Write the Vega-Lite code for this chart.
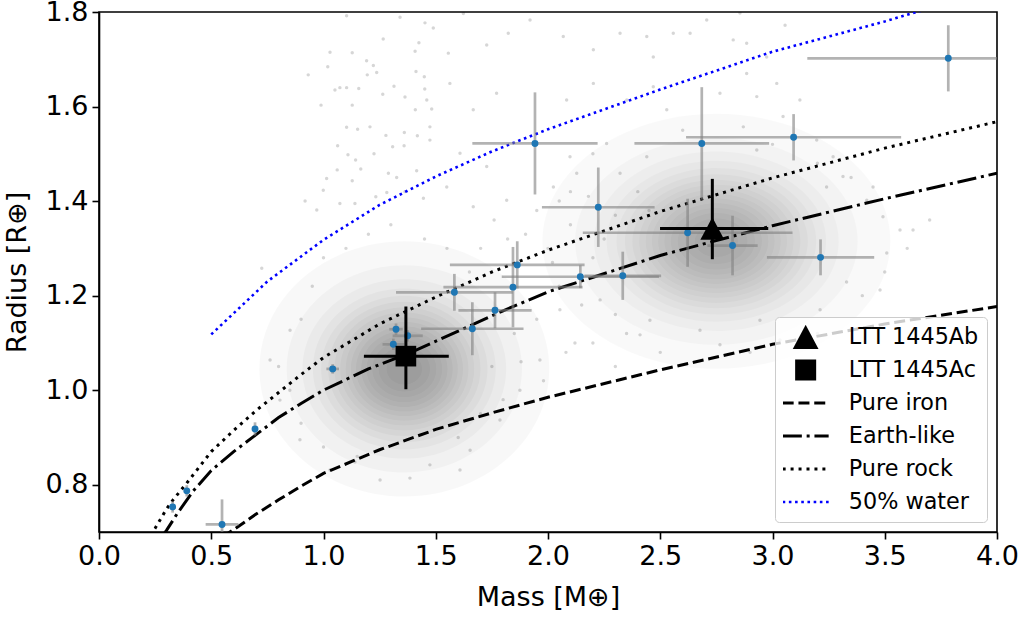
{
  "$schema": "https://vega.github.io/schema/vega-lite/v6.json",
  "width": 898,
  "height": 520,
  "autosize": "none",
  "padding": {"left": 99, "top": 12, "right": 23, "bottom": 88},
  "background": "white",
  "datasets": {
    "cloud": [
      {"planet": "c", "mass": 1.36, "radius": 1.045, "level": 0.359},
      {"planet": "c", "mass": 1.36, "radius": 1.045, "level": 0.517},
      {"planet": "c", "mass": 1.36, "radius": 1.045, "level": 0.644},
      {"planet": "c", "mass": 1.36, "radius": 1.045, "level": 0.759},
      {"planet": "c", "mass": 1.36, "radius": 1.045, "level": 0.866},
      {"planet": "c", "mass": 1.36, "radius": 1.045, "level": 0.97},
      {"planet": "c", "mass": 1.36, "radius": 1.045, "level": 1.073},
      {"planet": "c", "mass": 1.36, "radius": 1.045, "level": 1.177},
      {"planet": "c", "mass": 1.36, "radius": 1.045, "level": 1.286},
      {"planet": "c", "mass": 1.36, "radius": 1.045, "level": 1.401},
      {"planet": "c", "mass": 1.36, "radius": 1.045, "level": 1.525},
      {"planet": "c", "mass": 1.36, "radius": 1.045, "level": 1.665},
      {"planet": "c", "mass": 1.36, "radius": 1.045, "level": 1.83},
      {"planet": "c", "mass": 1.36, "radius": 1.045, "level": 2.039},
      {"planet": "c", "mass": 1.36, "radius": 1.045, "level": 2.355},
      {"planet": "c", "mass": 1.36, "radius": 1.045, "level": 2.9},
      {"planet": "b", "mass": 2.75, "radius": 1.315, "level": 0.359},
      {"planet": "b", "mass": 2.75, "radius": 1.315, "level": 0.517},
      {"planet": "b", "mass": 2.75, "radius": 1.315, "level": 0.644},
      {"planet": "b", "mass": 2.75, "radius": 1.315, "level": 0.759},
      {"planet": "b", "mass": 2.75, "radius": 1.315, "level": 0.866},
      {"planet": "b", "mass": 2.75, "radius": 1.315, "level": 0.97},
      {"planet": "b", "mass": 2.75, "radius": 1.315, "level": 1.073},
      {"planet": "b", "mass": 2.75, "radius": 1.315, "level": 1.177},
      {"planet": "b", "mass": 2.75, "radius": 1.315, "level": 1.286},
      {"planet": "b", "mass": 2.75, "radius": 1.315, "level": 1.401},
      {"planet": "b", "mass": 2.75, "radius": 1.315, "level": 1.525},
      {"planet": "b", "mass": 2.75, "radius": 1.315, "level": 1.665},
      {"planet": "b", "mass": 2.75, "radius": 1.315, "level": 1.83},
      {"planet": "b", "mass": 2.75, "radius": 1.315, "level": 2.039},
      {"planet": "b", "mass": 2.75, "radius": 1.315, "level": 2.355},
      {"planet": "b", "mass": 2.75, "radius": 1.315, "level": 2.9}
    ],
    "halo": [
      {"mass": 1.103, "radius": 1.792}, {"mass": 1.341, "radius": 1.789}, {"mass": 1.452, "radius": 1.777},
      {"mass": 1.029, "radius": 1.715}, {"mass": 1.128, "radius": 1.714}, {"mass": 1.266, "radius": 1.743},
      {"mass": 1.425, "radius": 1.735}, {"mass": 1.408, "radius": 1.717}, {"mass": 0.932, "radius": 1.667},
      {"mass": 1.019, "radius": 1.684}, {"mass": 1.192, "radius": 1.697}, {"mass": 1.222, "radius": 1.687},
      {"mass": 1.195, "radius": 1.667}, {"mass": 1.237, "radius": 1.672}, {"mass": 1.412, "radius": 1.674},
      {"mass": 1.449, "radius": 1.663}, {"mass": 1.051, "radius": 1.635}, {"mass": 1.073, "radius": 1.64},
      {"mass": 1.103, "radius": 1.64}, {"mass": 1.157, "radius": 1.638}, {"mass": 1.314, "radius": 1.643},
      {"mass": 1.451, "radius": 1.637}, {"mass": 1.264, "radius": 1.626}, {"mass": 1.363, "radius": 1.62},
      {"mass": 0.989, "radius": 1.603}, {"mass": 1.128, "radius": 1.603}, {"mass": 1.409, "radius": 1.593},
      {"mass": 1.482, "radius": 1.595}, {"mass": 1.103, "radius": 1.556}, {"mass": 1.152, "radius": 1.552},
      {"mass": 1.207, "radius": 1.557}, {"mass": 1.278, "radius": 1.539}, {"mass": 1.36, "radius": 1.545},
      {"mass": 1.418, "radius": 1.538}, {"mass": 1.474, "radius": 1.557}, {"mass": 1.063, "radius": 1.517},
      {"mass": 1.109, "radius": 1.498}, {"mass": 1.143, "radius": 1.487}, {"mass": 1.225, "radius": 1.5},
      {"mass": 1.308, "radius": 1.515}, {"mass": 1.359, "radius": 1.517}, {"mass": 1.061, "radius": 1.466},
      {"mass": 1.128, "radius": 1.443}, {"mass": 1.166, "radius": 1.468}, {"mass": 1.289, "radius": 1.459},
      {"mass": 1.326, "radius": 1.45}, {"mass": 1.415, "radius": 1.464}, {"mass": 1.014, "radius": 1.448},
      {"mass": 0.999, "radius": 1.423}, {"mass": 0.918, "radius": 1.4}, {"mass": 0.97, "radius": 1.381},
      {"mass": 1.073, "radius": 1.395}, {"mass": 1.14, "radius": 1.395}, {"mass": 1.233, "radius": 1.409},
      {"mass": 1.282, "radius": 1.418}, {"mass": 1.363, "radius": 1.42}, {"mass": 1.445, "radius": 1.406},
      {"mass": 0.725, "radius": 1.258},
      {"mass": 1.029, "radius": 0.831}, {"mass": 1.252, "radius": 0.81}, {"mass": 1.474, "radius": 0.842},
      {"mass": 1.653, "radius": 0.873}, {"mass": 0.895, "radius": 0.895}, {"mass": 1.786, "radius": 0.937},
      {"mass": 1.875, "radius": 1.0}, {"mass": 1.964, "radius": 1.064}, {"mass": 0.806, "radius": 0.979},
      {"mass": 0.762, "radius": 1.064}, {"mass": 0.851, "radius": 1.127}, {"mass": 1.608, "radius": 0.831},
      {"mass": 1.385, "radius": 0.814}, {"mass": 1.14, "radius": 0.848},
      {"mass": 1.489, "radius": 1.766}, {"mass": 1.623, "radius": 1.797}, {"mass": 1.556, "radius": 1.713},
      {"mass": 1.727, "radius": 1.73}, {"mass": 1.823, "radius": 1.755}, {"mass": 1.92, "radius": 1.783},
      {"mass": 2.068, "radius": 1.748}, {"mass": 2.202, "radius": 1.72}, {"mass": 2.321, "radius": 1.755},
      {"mass": 2.44, "radius": 1.748}, {"mass": 2.469, "radius": 1.705}, {"mass": 2.558, "radius": 1.755},
      {"mass": 2.633, "radius": 1.755}, {"mass": 2.707, "radius": 1.783}, {"mass": 2.825, "radius": 1.741},
      {"mass": 1.46, "radius": 1.614}, {"mass": 1.563, "radius": 1.649}, {"mass": 1.667, "radius": 1.593},
      {"mass": 1.771, "radius": 1.628}, {"mass": 2.083, "radius": 1.614}, {"mass": 2.202, "radius": 1.649},
      {"mass": 2.351, "radius": 1.614}, {"mass": 2.469, "radius": 1.642}, {"mass": 2.529, "radius": 1.593},
      {"mass": 2.766, "radius": 1.628}, {"mass": 2.885, "radius": 1.67}, {"mass": 1.474, "radius": 1.529},
      {"mass": 1.608, "radius": 1.501}, {"mass": 1.727, "radius": 1.473}, {"mass": 2.098, "radius": 1.494},
      {"mass": 2.261, "radius": 1.522}, {"mass": 2.321, "radius": 1.459}, {"mass": 2.44, "radius": 1.494},
      {"mass": 2.87, "radius": 1.557}, {"mass": 2.93, "radius": 1.508}, {"mass": 1.549, "radius": 1.43},
      {"mass": 1.667, "radius": 1.388}, {"mass": 1.816, "radius": 1.402}, {"mass": 2.024, "radius": 1.43},
      {"mass": 2.128, "radius": 1.459},
      {"mass": 2.855, "radius": 1.798}, {"mass": 3.056, "radius": 1.772}, {"mass": 2.885, "radius": 1.734},
      {"mass": 2.974, "radius": 1.705}, {"mass": 3.019, "radius": 1.649}, {"mass": 2.93, "radius": 1.621},
      {"mass": 3.122, "radius": 1.614}, {"mass": 3.047, "radius": 1.579}, {"mass": 3.197, "radius": 1.529},
      {"mass": 3.27, "radius": 1.494}, {"mass": 3.314, "radius": 1.452}, {"mass": 3.42, "radius": 1.402},
      {"mass": 3.492, "radius": 1.367}, {"mass": 3.568, "radius": 1.339}, {"mass": 3.626, "radius": 1.339},
      {"mass": 3.509, "radius": 1.29}, {"mass": 3.33, "radius": 1.229}, {"mass": 3.448, "radius": 1.43},
      {"mass": 3.241, "radius": 1.43},
      {"mass": 2.232, "radius": 1.191}, {"mass": 2.454, "radius": 1.148}, {"mass": 2.677, "radius": 1.127},
      {"mass": 2.944, "radius": 1.148}, {"mass": 3.212, "radius": 1.17}, {"mass": 3.479, "radius": 1.212},
      {"mass": 2.41, "radius": 1.117}, {"mass": 2.053, "radius": 1.17}, {"mass": 3.033, "radius": 1.106},
      {"mass": 2.766, "radius": 1.096},
      {"mass": 1.85, "radius": 1.12}, {"mass": 1.95, "radius": 1.15}, {"mass": 2.0, "radius": 1.3},
      {"mass": 2.05, "radius": 1.22}, {"mass": 2.1, "radius": 1.35}, {"mass": 2.15, "radius": 1.18},
      {"mass": 2.2, "radius": 1.28}, {"mass": 2.25, "radius": 1.32}, {"mass": 2.3, "radius": 1.37},
      {"mass": 2.3, "radius": 1.16}, {"mass": 2.18, "radius": 1.41}, {"mass": 1.9, "radius": 1.33},
      {"mass": 1.95, "radius": 1.38}, {"mass": 2.05, "radius": 1.4}, {"mass": 1.82, "radius": 1.32},
      {"mass": 2.35, "radius": 1.12}, {"mass": 2.4, "radius": 1.42}, {"mass": 2.12, "radius": 1.1},
      {"mass": 1.88, "radius": 1.06}, {"mass": 1.98, "radius": 1.02}, {"mass": 2.08, "radius": 1.08},
      {"mass": 2.45, "radius": 1.38}, {"mass": 2.02, "radius": 1.27}, {"mass": 1.76, "radius": 1.36},
      {"mass": 1.7, "radius": 1.3},
      {"mass": 0.9, "radius": 1.15}, {"mass": 0.95, "radius": 1.22}, {"mass": 1.0, "radius": 1.28},
      {"mass": 1.1, "radius": 1.3}, {"mass": 1.2, "radius": 1.33}, {"mass": 1.3, "radius": 1.35},
      {"mass": 1.45, "radius": 1.32}, {"mass": 1.55, "radius": 1.3}, {"mass": 1.65, "radius": 1.25},
      {"mass": 1.75, "radius": 1.05}, {"mass": 1.8, "radius": 0.98}, {"mass": 0.85, "radius": 1.0},
      {"mass": 0.9, "radius": 0.93}, {"mass": 1.0, "radius": 0.88}, {"mass": 1.15, "radius": 0.86},
      {"mass": 1.6, "radius": 0.9}, {"mass": 1.7, "radius": 0.95}, {"mass": 0.8, "radius": 1.05},
      {"mass": 2.3, "radius": 1.05}, {"mass": 2.5, "radius": 1.08}, {"mass": 2.9, "radius": 1.08},
      {"mass": 3.2, "radius": 1.12}, {"mass": 3.4, "radius": 1.2}, {"mass": 3.5, "radius": 1.25},
      {"mass": 3.35, "radius": 1.45}, {"mass": 3.2, "radius": 1.48}, {"mass": 2.2, "radius": 1.5},
      {"mass": 2.1, "radius": 1.42}, {"mass": 2.6, "radius": 1.55}, {"mass": 3.0, "radius": 1.52},
      {"mass": 3.6, "radius": 1.3}, {"mass": 3.7, "radius": 1.36}, {"mass": 2.2, "radius": 1.1}
    ],
    "models": [
      {"series": "Pure iron", "mass": 0.55, "radius": 0.69}, {"series": "Pure iron", "mass": 0.6, "radius": 0.705},
      {"series": "Pure iron", "mass": 0.7, "radius": 0.738}, {"series": "Pure iron", "mass": 0.8, "radius": 0.768},
      {"series": "Pure iron", "mass": 0.9, "radius": 0.797}, {"series": "Pure iron", "mass": 1.0, "radius": 0.824},
      {"series": "Pure iron", "mass": 1.25, "radius": 0.874}, {"series": "Pure iron", "mass": 1.5, "radius": 0.917},
      {"series": "Pure iron", "mass": 1.75, "radius": 0.952}, {"series": "Pure iron", "mass": 2.0, "radius": 0.985},
      {"series": "Pure iron", "mass": 2.5, "radius": 1.043}, {"series": "Pure iron", "mass": 3.0, "radius": 1.097},
      {"series": "Pure iron", "mass": 3.5, "radius": 1.14}, {"series": "Pure iron", "mass": 4.0, "radius": 1.177},
      {"series": "Earth-like", "mass": 0.28, "radius": 0.69}, {"series": "Earth-like", "mass": 0.3, "radius": 0.703},
      {"series": "Earth-like", "mass": 0.35, "radius": 0.74}, {"series": "Earth-like", "mass": 0.42, "radius": 0.787},
      {"series": "Earth-like", "mass": 0.5, "radius": 0.83}, {"series": "Earth-like", "mass": 0.6, "radius": 0.87},
      {"series": "Earth-like", "mass": 0.7, "radius": 0.906}, {"series": "Earth-like", "mass": 0.8, "radius": 0.942},
      {"series": "Earth-like", "mass": 0.9, "radius": 0.972}, {"series": "Earth-like", "mass": 1.0, "radius": 1.0},
      {"series": "Earth-like", "mass": 1.2, "radius": 1.045}, {"series": "Earth-like", "mass": 1.4, "radius": 1.082},
      {"series": "Earth-like", "mass": 1.6, "radius": 1.125}, {"series": "Earth-like", "mass": 1.8, "radius": 1.168},
      {"series": "Earth-like", "mass": 2.0, "radius": 1.208}, {"series": "Earth-like", "mass": 2.5, "radius": 1.285},
      {"series": "Earth-like", "mass": 3.0, "radius": 1.348}, {"series": "Earth-like", "mass": 3.5, "radius": 1.405},
      {"series": "Earth-like", "mass": 4.0, "radius": 1.459},
      {"series": "Pure rock", "mass": 0.23, "radius": 0.693}, {"series": "Pure rock", "mass": 0.25, "radius": 0.708},
      {"series": "Pure rock", "mass": 0.3, "radius": 0.748}, {"series": "Pure rock", "mass": 0.33, "radius": 0.768},
      {"series": "Pure rock", "mass": 0.39, "radius": 0.803}, {"series": "Pure rock", "mass": 0.5, "radius": 0.87},
      {"series": "Pure rock", "mass": 0.6, "radius": 0.915}, {"series": "Pure rock", "mass": 0.7, "radius": 0.957},
      {"series": "Pure rock", "mass": 0.8, "radius": 0.995}, {"series": "Pure rock", "mass": 0.9, "radius": 1.033},
      {"series": "Pure rock", "mass": 1.0, "radius": 1.069}, {"series": "Pure rock", "mass": 1.25, "radius": 1.14},
      {"series": "Pure rock", "mass": 1.5, "radius": 1.197}, {"series": "Pure rock", "mass": 1.75, "radius": 1.25},
      {"series": "Pure rock", "mass": 2.0, "radius": 1.296}, {"series": "Pure rock", "mass": 2.5, "radius": 1.378},
      {"series": "Pure rock", "mass": 3.0, "radius": 1.449}, {"series": "Pure rock", "mass": 3.5, "radius": 1.512},
      {"series": "Pure rock", "mass": 4.0, "radius": 1.568},
      {"series": "50% water", "mass": 0.5, "radius": 1.118}, {"series": "50% water", "mass": 0.75, "radius": 1.23},
      {"series": "50% water", "mass": 1.0, "radius": 1.318}, {"series": "50% water", "mass": 1.25, "radius": 1.392},
      {"series": "50% water", "mass": 1.5, "radius": 1.452}, {"series": "50% water", "mass": 1.75, "radius": 1.505},
      {"series": "50% water", "mass": 2.0, "radius": 1.552}, {"series": "50% water", "mass": 2.5, "radius": 1.636},
      {"series": "50% water", "mass": 3.0, "radius": 1.716}, {"series": "50% water", "mass": 3.5, "radius": 1.78},
      {"series": "50% water", "mass": 3.75, "radius": 1.815}
    ],
    "known": [
      {"mass": 0.328, "mass_lo": 0.318, "mass_hi": 0.338, "radius": 0.753, "radius_lo": 0.741, "radius_hi": 0.765},
      {"mass": 0.391, "mass_lo": 0.379, "mass_hi": 0.403, "radius": 0.787, "radius_lo": 0.775, "radius_hi": 0.799},
      {"mass": 0.548, "mass_lo": 0.475, "mass_hi": 0.621, "radius": 0.716, "radius_lo": 0.663, "radius_hi": 0.769},
      {"mass": 0.695, "mass_lo": 0.683, "mass_hi": 0.707, "radius": 0.918, "radius_lo": 0.904, "radius_hi": 0.932},
      {"mass": 1.041, "mass_lo": 1.013, "mass_hi": 1.069, "radius": 1.045, "radius_lo": 1.035, "radius_hi": 1.055},
      {"mass": 1.311, "mass_lo": 1.263, "mass_hi": 1.359, "radius": 1.097, "radius_lo": 1.085, "radius_hi": 1.109},
      {"mass": 1.323, "mass_lo": 1.293, "mass_hi": 1.353, "radius": 1.129, "radius_lo": 1.117, "radius_hi": 1.141},
      {"mass": 1.375, "mass_lo": 1.308, "mass_hi": 1.442, "radius": 1.115, "radius_lo": 1.103, "radius_hi": 1.127},
      {"mass": 1.583, "mass_lo": 1.323, "mass_hi": 1.843, "radius": 1.207, "radius_lo": 1.168, "radius_hi": 1.246},
      {"mass": 1.663, "mass_lo": 1.435, "mass_hi": 1.891, "radius": 1.13, "radius_lo": 1.074, "radius_hi": 1.186},
      {"mass": 1.764, "mass_lo": 1.601, "mass_hi": 1.927, "radius": 1.169, "radius_lo": 1.131, "radius_hi": 1.207},
      {"mass": 1.844, "mass_lo": 1.534, "mass_hi": 2.154, "radius": 1.218, "radius_lo": 1.133, "radius_hi": 1.303},
      {"mass": 1.863, "mass_lo": 1.563, "mass_hi": 2.163, "radius": 1.265, "radius_lo": 1.215, "radius_hi": 1.315},
      {"mass": 1.942, "mass_lo": 1.663, "mass_hi": 2.221, "radius": 1.522, "radius_lo": 1.414, "radius_hi": 1.63},
      {"mass": 2.144, "mass_lo": 1.794, "mass_hi": 2.494, "radius": 1.24, "radius_lo": 1.216, "radius_hi": 1.264},
      {"mass": 2.224, "mass_lo": 1.973, "mass_hi": 2.475, "radius": 1.387, "radius_lo": 1.303, "radius_hi": 1.471},
      {"mass": 2.333, "mass_lo": 2.162, "mass_hi": 2.504, "radius": 1.242, "radius_lo": 1.191, "radius_hi": 1.293},
      {"mass": 2.622, "mass_lo": 2.155, "mass_hi": 3.089, "radius": 1.333, "radius_lo": 1.261, "radius_hi": 1.405},
      {"mass": 2.685, "mass_lo": 2.385, "mass_hi": 2.985, "radius": 1.522, "radius_lo": 1.403, "radius_hi": 1.641},
      {"mass": 2.822, "mass_lo": 2.71, "mass_hi": 2.934, "radius": 1.306, "radius_lo": 1.243, "radius_hi": 1.369},
      {"mass": 3.094, "mass_lo": 2.615, "mass_hi": 3.573, "radius": 1.535, "radius_lo": 1.486, "radius_hi": 1.584},
      {"mass": 3.214, "mass_lo": 2.975, "mass_hi": 3.453, "radius": 1.281, "radius_lo": 1.243, "radius_hi": 1.319},
      {"mass": 3.783, "mass_lo": 3.155, "mass_hi": 4.411, "radius": 1.702, "radius_lo": 1.632, "radius_hi": 1.772}
    ],
    "planets": [
      {"series": "LTT 1445Ab", "mass": 2.732, "mass_lo": 2.499, "mass_hi": 2.981, "radius": 1.342, "radius_lo": 1.277, "radius_hi": 1.447},
      {"series": "LTT 1445Ac", "mass": 1.367, "mass_lo": 1.18, "mass_hi": 1.558, "radius": 1.072, "radius_lo": 1.002, "radius_hi": 1.177}
    ]
  },
  "layer": [
    {
      "data": {"name": "cloud"},
      "transform": [{"filter": "datum.planet === 'c'"}],
      "mark": {"type": "point", "filled": true, "shape": "M-0.833,0A0.833,0.733,0,1,1,0.833,0A0.833,0.733,0,1,1,-0.833,0Z", "color": "#000000", "opacity": 0.0294, "strokeWidth": 0, "clip": true},
      "encoding": {
        "x": {"field": "mass", "type": "quantitative", "scale": {"domain": [0, 4], "nice": false, "zero": false}, "title": "Mass [M⊕]", "axis": {"tickCount": 8, "format": ".1f"}},
        "y": {"field": "radius", "type": "quantitative", "scale": {"domain": [0.7, 1.8], "nice": false, "zero": false}, "title": "Radius [R⊕]", "axis": {"tickCount": 6, "format": ".1f"}},
        "size": {"field": "level", "type": "quantitative", "scale": {"type": "pow", "exponent": 2, "domain": [0, 3], "range": [0, 129600]}, "legend": null}
      }
    },
    {
      "data": {"name": "cloud"},
      "transform": [{"filter": "datum.planet === 'b'"}],
      "mark": {"type": "point", "filled": true, "shape": "M-1,0A1,0.733,0,1,1,1,0A1,0.733,0,1,1,-1,0Z", "color": "#000000", "opacity": 0.0247, "strokeWidth": 0, "clip": true},
      "encoding": {
        "x": {"field": "mass", "type": "quantitative", "title": "Mass [M⊕]"},
        "y": {"field": "radius", "type": "quantitative", "title": "Radius [R⊕]"},
        "size": {"field": "level", "type": "quantitative", "legend": null}
      }
    },
    {
      "data": {"name": "halo"},
      "mark": {"type": "point", "filled": true, "color": "#000000", "opacity": 0.16, "size": 12, "strokeWidth": 0, "clip": true},
      "encoding": {
        "x": {"field": "mass", "type": "quantitative", "title": "Mass [M⊕]"},
        "y": {"field": "radius", "type": "quantitative", "title": "Radius [R⊕]"}
      }
    },
    {
      "data": {"name": "models"},
      "transform": [{"filter": "datum.series !== '50% water'"}],
      "mark": {"type": "line", "strokeWidth": 3, "clip": true},
      "encoding": {
        "x": {"field": "mass", "type": "quantitative", "title": "Mass [M⊕]"},
        "y": {"field": "radius", "type": "quantitative", "title": "Radius [R⊕]"},
        "color": {
          "field": "series", "type": "nominal",
          "scale": {"domain": ["LTT 1445Ab", "LTT 1445Ac", "Pure iron", "Earth-like", "Pure rock", "50% water"], "range": ["#000000", "#000000", "#000000", "#000000", "#000000", "#0000ff"]},
          "legend": {"title": null, "encode": {"symbols": {"update": {"size": {"value": 2116}, "fill": {"scale": "color", "field": "value"}, "stroke": {"scale": "color", "field": "value"}, "strokeWidth": {"signal": "indexof(['LTT 1445Ab','LTT 1445Ac'], datum.value) >= 0 ? 0 : (datum.value === '50% water' ? 2.6 : 3)"}, "opacity": {"value": 1}}}}}
        },
        "strokeDash": {
          "field": "series", "type": "nominal",
          "scale": {"domain": ["LTT 1445Ab", "LTT 1445Ac", "Pure iron", "Earth-like", "Pure rock", "50% water"], "range": [[1, 0], [1, 0], [11, 4.8], [19.2, 4.8, 3, 4.8], [3, 4.95], [2.6, 3.6]]},
          "legend": {"title": null}
        }
      }
    },
    {
      "data": {"name": "models"},
      "transform": [{"filter": "datum.series === '50% water'"}],
      "mark": {"type": "line", "strokeWidth": 2.6, "clip": true},
      "encoding": {
        "x": {"field": "mass", "type": "quantitative", "title": "Mass [M⊕]"},
        "y": {"field": "radius", "type": "quantitative", "title": "Radius [R⊕]"},
        "color": {"field": "series", "type": "nominal"},
        "strokeDash": {"field": "series", "type": "nominal"}
      }
    },
    {
      "data": {"name": "known"},
      "mark": {"type": "rule", "color": "#808080", "opacity": 0.6, "strokeWidth": 2.7, "clip": true},
      "encoding": {
        "x": {"field": "mass_lo", "type": "quantitative", "title": "Mass [M⊕]"},
        "x2": {"field": "mass_hi"},
        "y": {"field": "radius", "type": "quantitative", "title": "Radius [R⊕]"}
      }
    },
    {
      "data": {"name": "known"},
      "mark": {"type": "rule", "color": "#808080", "opacity": 0.6, "strokeWidth": 2.7, "clip": true},
      "encoding": {
        "x": {"field": "mass", "type": "quantitative", "title": "Mass [M⊕]"},
        "y": {"field": "radius_lo", "type": "quantitative", "title": "Radius [R⊕]"},
        "y2": {"field": "radius_hi"}
      }
    },
    {
      "data": {"name": "known"},
      "mark": {"type": "point", "filled": true, "color": "#1f77b4", "opacity": 1, "size": 48, "strokeWidth": 0, "clip": true},
      "encoding": {
        "x": {"field": "mass", "type": "quantitative", "title": "Mass [M⊕]"},
        "y": {"field": "radius", "type": "quantitative", "title": "Radius [R⊕]"}
      }
    },
    {
      "data": {"name": "planets"},
      "mark": {"type": "rule", "color": "#000000", "strokeWidth": 3},
      "encoding": {
        "x": {"field": "mass_lo", "type": "quantitative", "title": "Mass [M⊕]"},
        "x2": {"field": "mass_hi"},
        "y": {"field": "radius", "type": "quantitative", "title": "Radius [R⊕]"}
      }
    },
    {
      "data": {"name": "planets"},
      "mark": {"type": "rule", "color": "#000000", "strokeWidth": 3},
      "encoding": {
        "x": {"field": "mass", "type": "quantitative", "title": "Mass [M⊕]"},
        "y": {"field": "radius_lo", "type": "quantitative", "title": "Radius [R⊕]"},
        "y2": {"field": "radius_hi"}
      }
    },
    {
      "data": {"name": "planets"},
      "transform": [{"filter": "datum.series === 'LTT 1445Ab'"}],
      "mark": {"type": "point", "filled": true, "opacity": 1, "size": 1832, "strokeWidth": 0},
      "encoding": {
        "x": {"field": "mass", "type": "quantitative", "title": "Mass [M⊕]"},
        "y": {"field": "radius", "type": "quantitative", "title": "Radius [R⊕]"},
        "color": {"field": "series", "type": "nominal"},
        "shape": {
          "field": "series", "type": "nominal",
          "scale": {"domain": ["LTT 1445Ab", "LTT 1445Ac", "Pure iron", "Earth-like", "Pure rock", "50% water"], "range": ["M0,-0.53L0.56,0.52L-0.56,0.52Z", "M-0.457,-0.457L0.457,-0.457L0.457,0.457L-0.457,0.457Z", "M-1,0L1,0", "M-1,0L1,0", "M-1,0L1,0", "M-1,0L1,0"]},
          "legend": {"title": null}
        }
      }
    },
    {
      "data": {"name": "planets"},
      "transform": [{"filter": "datum.series === 'LTT 1445Ac'"}],
      "mark": {"type": "point", "filled": true, "opacity": 1, "size": 2043, "strokeWidth": 0},
      "encoding": {
        "x": {"field": "mass", "type": "quantitative", "title": "Mass [M⊕]"},
        "y": {"field": "radius", "type": "quantitative", "title": "Radius [R⊕]"},
        "color": {"field": "series", "type": "nominal"},
        "shape": {"field": "series", "type": "nominal"}
      }
    }
  ],
  "config": {
    "font": "DejaVu Sans",
    "view": {"stroke": "#000000", "strokeWidth": 1.6},
    "axis": {
      "grid": false,
      "domainColor": "#000000",
      "domainWidth": 1.6,
      "tickColor": "#000000",
      "tickWidth": 1.6,
      "tickSize": 7,
      "labelFont": "DejaVu Sans",
      "labelFontSize": 27,
      "labelColor": "#000000",
      "labelPadding": 4,
      "labelFlush": false,
      "labelOverlap": false,
      "titleFont": "DejaVu Sans",
      "titleFontSize": 27,
      "titleFontWeight": "normal",
      "titleColor": "#000000"
    },
    "axisX": {"titlePadding": 15},
    "axisY": {"titlePadding": 14},
    "legend": {
      "orient": "bottom-right",
      "offset": 10,
      "labelFont": "DejaVu Sans",
      "labelFontSize": 22.3,
      "labelColor": "#000000",
      "symbolSize": 2116,
      "symbolStrokeWidth": 3,
      "clipHeight": 24,
      "rowPadding": 9,
      "symbolOffset": 11.5,
      "labelOffset": 32,
      "padding": 8,
      "strokeColor": "#cccccc",
      "fillColor": "rgba(255,255,255,0.8)",
      "cornerRadius": 4
    }
  }
}
